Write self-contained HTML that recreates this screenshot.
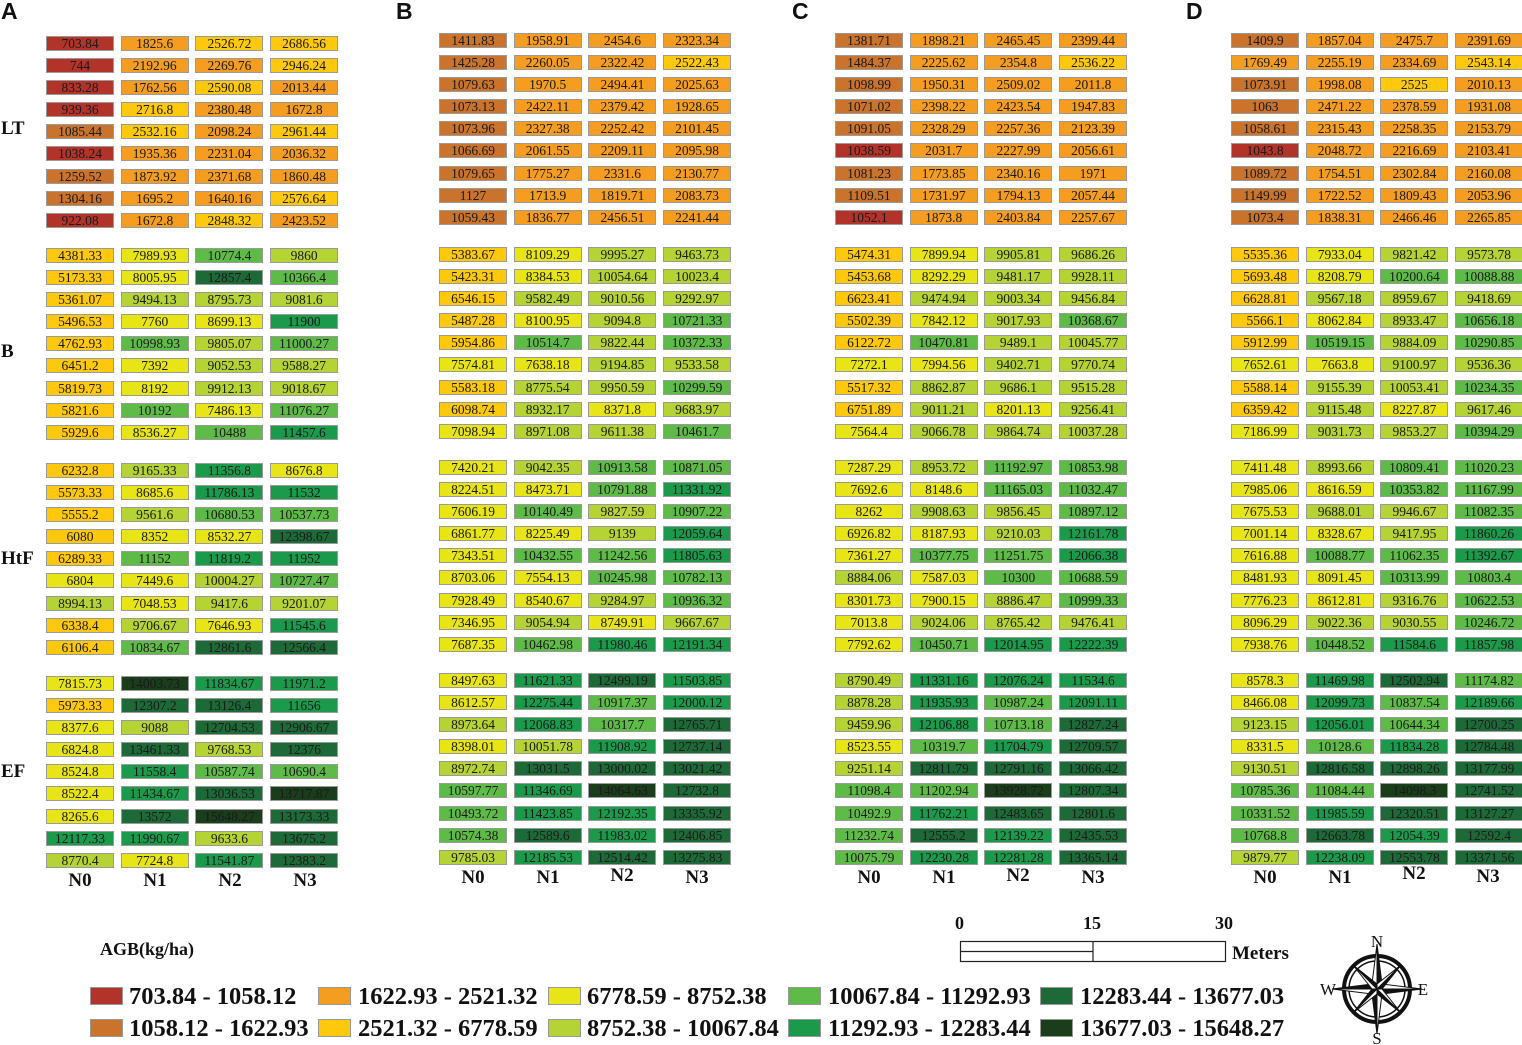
<!DOCTYPE html>
<html><head><meta charset="utf-8">
<style>
body{margin:0;width:1522px;height:1045px;background:#fff;position:relative;overflow:hidden;font-family:"Liberation Serif",serif;}
.g{position:absolute;display:grid;grid-template-columns:repeat(4,68px);column-gap:6.7px;row-gap:7.1px;}
.g span{display:block;height:15px;box-sizing:border-box;border:1px solid #9a9a9a;font:13.5px/13px "Liberation Serif",serif;text-align:center;color:#1a1a1a;white-space:nowrap;overflow:hidden;}
.t{position:absolute;font-weight:bold;color:#111;font-family:"Liberation Serif",serif;}
.lab{font-size:19px;}
.pl{font-size:23px;font-family:"Liberation Sans",sans-serif;}
.nh{font-size:19px;width:68px;text-align:center;}
.sw{position:absolute;width:33px;height:18px;border:1px solid #999;box-sizing:border-box;}
.lt{position:absolute;font:bold 24.5px "Liberation Serif",serif;color:#111;white-space:nowrap;}
</style></head><body>

<div class="t pl" style="left:1px;top:-2px">A</div>
<div class="t pl" style="left:396px;top:-2px">B</div>
<div class="t pl" style="left:792px;top:-2px">C</div>
<div class="t pl" style="left:1186px;top:-2px">D</div>

<div class="t lab" style="left:1px;top:118px">LT</div>
<div class="t lab" style="left:1px;top:341px">B</div>
<div class="t lab" style="left:1px;top:548px">HtF</div>
<div class="t lab" style="left:1px;top:761px">EF</div>

<!-- Panel A -->
<div class="g" style="left:46px;top:36px">
<span>703.84</span><span>1825.6</span><span>2526.72</span><span>2686.56</span>
<span>744</span><span>2192.96</span><span>2269.76</span><span>2946.24</span>
<span>833.28</span><span>1762.56</span><span>2590.08</span><span>2013.44</span>
<span>939.36</span><span>2716.8</span><span>2380.48</span><span>1672.8</span>
<span>1085.44</span><span>2532.16</span><span>2098.24</span><span>2961.44</span>
<span>1038.24</span><span>1935.36</span><span>2231.04</span><span>2036.32</span>
<span>1259.52</span><span>1873.92</span><span>2371.68</span><span>1860.48</span>
<span>1304.16</span><span>1695.2</span><span>1640.16</span><span>2576.64</span>
<span>922.08</span><span>1672.8</span><span>2848.32</span><span>2423.52</span>
</div>
<div class="g" style="left:46px;top:248px">
<span>4381.33</span><span>7989.93</span><span>10774.4</span><span>9860</span>
<span>5173.33</span><span>8005.95</span><span>12857.4</span><span>10366.4</span>
<span>5361.07</span><span>9494.13</span><span>8795.73</span><span>9081.6</span>
<span>5496.53</span><span>7760</span><span>8699.13</span><span>11900</span>
<span>4762.93</span><span>10998.93</span><span>9805.07</span><span>11000.27</span>
<span>6451.2</span><span>7392</span><span>9052.53</span><span>9588.27</span>
<span>5819.73</span><span>8192</span><span>9912.13</span><span>9018.67</span>
<span>5821.6</span><span>10192</span><span>7486.13</span><span>11076.27</span>
<span>5929.6</span><span>8536.27</span><span>10488</span><span>11457.6</span>
</div>
<div class="g" style="left:46px;top:463px">
<span>6232.8</span><span>9165.33</span><span>11356.8</span><span>8676.8</span>
<span>5573.33</span><span>8685.6</span><span>11786.13</span><span>11532</span>
<span>5555.2</span><span>9561.6</span><span>10680.53</span><span>10537.73</span>
<span>6080</span><span>8352</span><span>8532.27</span><span>12398.67</span>
<span>6289.33</span><span>11152</span><span>11819.2</span><span>11952</span>
<span>6804</span><span>7449.6</span><span>10004.27</span><span>10727.47</span>
<span>8994.13</span><span>7048.53</span><span>9417.6</span><span>9201.07</span>
<span>6338.4</span><span>9706.67</span><span>7646.93</span><span>11545.6</span>
<span>6106.4</span><span>10834.67</span><span>12861.6</span><span>12566.4</span>
</div>
<div class="g" style="left:46px;top:676px">
<span>7815.73</span><span>14003.73</span><span>11834.67</span><span>11971.2</span>
<span>5973.33</span><span>12307.2</span><span>13126.4</span><span>11656</span>
<span>8377.6</span><span>9088</span><span>12704.53</span><span>12906.67</span>
<span>6824.8</span><span>13461.33</span><span>9768.53</span><span>12376</span>
<span>8524.8</span><span>11558.4</span><span>10587.74</span><span>10690.4</span>
<span>8522.4</span><span>11434.67</span><span>13036.53</span><span>13717.87</span>
<span>8265.6</span><span>13572</span><span>15648.27</span><span>13173.33</span>
<span>12117.33</span><span>11990.67</span><span>9633.6</span><span>13675.2</span>
<span>8770.4</span><span>7724.8</span><span>11541.87</span><span>12383.2</span>
</div>

<!-- Panel B -->
<div class="g" style="left:439px;top:33px">
<span>1411.83</span><span>1958.91</span><span>2454.6</span><span>2323.34</span>
<span>1425.28</span><span>2260.05</span><span>2322.42</span><span>2522.43</span>
<span>1079.63</span><span>1970.5</span><span>2494.41</span><span>2025.63</span>
<span>1073.13</span><span>2422.11</span><span>2379.42</span><span>1928.65</span>
<span>1073.96</span><span>2327.38</span><span>2252.42</span><span>2101.45</span>
<span>1066.69</span><span>2061.55</span><span>2209.11</span><span>2095.98</span>
<span>1079.65</span><span>1775.27</span><span>2331.6</span><span>2130.77</span>
<span>1127</span><span>1713.9</span><span>1819.71</span><span>2083.73</span>
<span>1059.43</span><span>1836.77</span><span>2456.51</span><span>2241.44</span>
</div>
<div class="g" style="left:439px;top:247px">
<span>5383.67</span><span>8109.29</span><span>9995.27</span><span>9463.73</span>
<span>5423.31</span><span>8384.53</span><span>10054.64</span><span>10023.4</span>
<span>6546.15</span><span>9582.49</span><span>9010.56</span><span>9292.97</span>
<span>5487.28</span><span>8100.95</span><span>9094.8</span><span>10721.33</span>
<span>5954.86</span><span>10514.7</span><span>9822.44</span><span>10372.33</span>
<span>7574.81</span><span>7638.18</span><span>9194.85</span><span>9533.58</span>
<span>5583.18</span><span>8775.54</span><span>9950.59</span><span>10299.59</span>
<span>6098.74</span><span>8932.17</span><span>8371.8</span><span>9683.97</span>
<span>7098.94</span><span>8971.08</span><span>9611.38</span><span>10461.7</span>
</div>
<div class="g" style="left:439px;top:460px">
<span>7420.21</span><span>9042.35</span><span>10913.58</span><span>10871.05</span>
<span>8224.51</span><span>8473.71</span><span>10791.88</span><span>11331.92</span>
<span>7606.19</span><span>10140.49</span><span>9827.59</span><span>10907.22</span>
<span>6861.77</span><span>8225.49</span><span>9139</span><span>12059.64</span>
<span>7343.51</span><span>10432.55</span><span>11242.56</span><span>11805.63</span>
<span>8703.06</span><span>7554.13</span><span>10245.98</span><span>10782.13</span>
<span>7928.49</span><span>8540.67</span><span>9284.97</span><span>10936.32</span>
<span>7346.95</span><span>9054.94</span><span>8749.91</span><span>9667.67</span>
<span>7687.35</span><span>10462.98</span><span>11980.46</span><span>12191.34</span>
</div>
<div class="g" style="left:439px;top:673px">
<span>8497.63</span><span>11621.33</span><span>12499.19</span><span>11503.85</span>
<span>8612.57</span><span>12275.44</span><span>10917.37</span><span>12000.12</span>
<span>8973.64</span><span>12068.83</span><span>10317.7</span><span>12765.71</span>
<span>8398.01</span><span>10051.78</span><span>11908.92</span><span>12737.14</span>
<span>8972.74</span><span>13031.5</span><span>13000.02</span><span>13021.42</span>
<span>10597.77</span><span>11346.69</span><span>14064.63</span><span>12732.8</span>
<span>10493.72</span><span>11423.85</span><span>12192.35</span><span>13335.92</span>
<span>10574.38</span><span>12589.6</span><span>11983.02</span><span>12406.85</span>
<span>9785.03</span><span>12185.53</span><span>12514.42</span><span>13275.83</span>
</div>

<!-- Panel C -->
<div class="g" style="left:835px;top:33px">
<span>1381.71</span><span>1898.21</span><span>2465.45</span><span>2399.44</span>
<span>1484.37</span><span>2225.62</span><span>2354.8</span><span>2536.22</span>
<span>1098.99</span><span>1950.31</span><span>2509.02</span><span>2011.8</span>
<span>1071.02</span><span>2398.22</span><span>2423.54</span><span>1947.83</span>
<span>1091.05</span><span>2328.29</span><span>2257.36</span><span>2123.39</span>
<span>1038.59</span><span>2031.7</span><span>2227.99</span><span>2056.61</span>
<span>1081.23</span><span>1773.85</span><span>2340.16</span><span>1971</span>
<span>1109.51</span><span>1731.97</span><span>1794.13</span><span>2057.44</span>
<span>1052.1</span><span>1873.8</span><span>2403.84</span><span>2257.67</span>
</div>
<div class="g" style="left:835px;top:247px">
<span>5474.31</span><span>7899.94</span><span>9905.81</span><span>9686.26</span>
<span>5453.68</span><span>8292.29</span><span>9481.17</span><span>9928.11</span>
<span>6623.41</span><span>9474.94</span><span>9003.34</span><span>9456.84</span>
<span>5502.39</span><span>7842.12</span><span>9017.93</span><span>10368.67</span>
<span>6122.72</span><span>10470.81</span><span>9489.1</span><span>10045.77</span>
<span>7272.1</span><span>7994.56</span><span>9402.71</span><span>9770.74</span>
<span>5517.32</span><span>8862.87</span><span>9686.1</span><span>9515.28</span>
<span>6751.89</span><span>9011.21</span><span>8201.13</span><span>9256.41</span>
<span>7564.4</span><span>9066.78</span><span>9864.74</span><span>10037.28</span>
</div>
<div class="g" style="left:835px;top:460px">
<span>7287.29</span><span>8953.72</span><span>11192.97</span><span>10853.98</span>
<span>7692.6</span><span>8148.6</span><span>11165.03</span><span>11032.47</span>
<span>8262</span><span>9908.63</span><span>9856.45</span><span>10897.12</span>
<span>6926.82</span><span>8187.93</span><span>9210.03</span><span>12161.78</span>
<span>7361.27</span><span>10377.75</span><span>11251.75</span><span>12066.38</span>
<span>8884.06</span><span>7587.03</span><span>10300</span><span>10688.59</span>
<span>8301.73</span><span>7900.15</span><span>8886.47</span><span>10999.33</span>
<span>7013.8</span><span>9024.06</span><span>8765.42</span><span>9476.41</span>
<span>7792.62</span><span>10450.71</span><span>12014.95</span><span>12222.39</span>
</div>
<div class="g" style="left:835px;top:673px">
<span>8790.49</span><span>11331.16</span><span>12076.24</span><span>11534.6</span>
<span>8878.28</span><span>11935.93</span><span>10987.24</span><span>12091.11</span>
<span>9459.96</span><span>12106.88</span><span>10713.18</span><span>12827.24</span>
<span>8523.55</span><span>10319.7</span><span>11704.79</span><span>12709.57</span>
<span>9251.14</span><span>12811.79</span><span>12791.16</span><span>13066.42</span>
<span>11098.4</span><span>11202.94</span><span>13928.72</span><span>12807.34</span>
<span>10492.9</span><span>11762.21</span><span>12483.65</span><span>12801.6</span>
<span>11232.74</span><span>12555.2</span><span>12139.22</span><span>12435.53</span>
<span>10075.79</span><span>12230.28</span><span>12281.28</span><span>13365.14</span>
</div>

<!-- Panel D -->
<div class="g" style="left:1231px;top:33px">
<span>1409.9</span><span>1857.04</span><span>2475.7</span><span>2391.69</span>
<span>1769.49</span><span>2255.19</span><span>2334.69</span><span>2543.14</span>
<span>1073.91</span><span>1998.08</span><span>2525</span><span>2010.13</span>
<span>1063</span><span>2471.22</span><span>2378.59</span><span>1931.08</span>
<span>1058.61</span><span>2315.43</span><span>2258.35</span><span>2153.79</span>
<span>1043.8</span><span>2048.72</span><span>2216.69</span><span>2103.41</span>
<span>1089.72</span><span>1754.51</span><span>2302.84</span><span>2160.08</span>
<span>1149.99</span><span>1722.52</span><span>1809.43</span><span>2053.96</span>
<span>1073.4</span><span>1838.31</span><span>2466.46</span><span>2265.85</span>
</div>
<div class="g" style="left:1231px;top:247px">
<span>5535.36</span><span>7933.04</span><span>9821.42</span><span>9573.78</span>
<span>5693.48</span><span>8208.79</span><span>10200.64</span><span>10088.88</span>
<span>6628.81</span><span>9567.18</span><span>8959.67</span><span>9418.69</span>
<span>5566.1</span><span>8062.84</span><span>8933.47</span><span>10656.18</span>
<span>5912.99</span><span>10519.15</span><span>9884.09</span><span>10290.85</span>
<span>7652.61</span><span>7663.8</span><span>9100.97</span><span>9536.36</span>
<span>5588.14</span><span>9155.39</span><span>10053.41</span><span>10234.35</span>
<span>6359.42</span><span>9115.48</span><span>8227.87</span><span>9617.46</span>
<span>7186.99</span><span>9031.73</span><span>9853.27</span><span>10394.29</span>
</div>
<div class="g" style="left:1231px;top:460px">
<span>7411.48</span><span>8993.66</span><span>10809.41</span><span>11020.23</span>
<span>7985.06</span><span>8616.59</span><span>10353.82</span><span>11167.99</span>
<span>7675.53</span><span>9688.01</span><span>9946.67</span><span>11082.35</span>
<span>7001.14</span><span>8328.67</span><span>9417.95</span><span>11860.26</span>
<span>7616.88</span><span>10088.77</span><span>11062.35</span><span>11392.67</span>
<span>8481.93</span><span>8091.45</span><span>10313.99</span><span>10803.4</span>
<span>7776.23</span><span>8612.81</span><span>9316.76</span><span>10622.53</span>
<span>8096.29</span><span>9022.36</span><span>9030.55</span><span>10246.72</span>
<span>7938.76</span><span>10448.52</span><span>11584.6</span><span>11857.98</span>
</div>
<div class="g" style="left:1231px;top:673px">
<span>8578.3</span><span>11469.98</span><span>12502.94</span><span>11174.82</span>
<span>8466.08</span><span>12099.73</span><span>10837.54</span><span>12189.66</span>
<span>9123.15</span><span>12056.01</span><span>10644.34</span><span>12700.25</span>
<span>8331.5</span><span>10128.6</span><span>11834.28</span><span>12784.48</span>
<span>9130.51</span><span>12816.58</span><span>12898.26</span><span>13177.99</span>
<span>10785.36</span><span>11084.44</span><span>14098.3</span><span>12741.52</span>
<span>10331.52</span><span>11985.59</span><span>12320.51</span><span>13127.27</span>
<span>10768.8</span><span>12663.78</span><span>12054.39</span><span>12592.4</span>
<span>9879.77</span><span>12238.09</span><span>12553.78</span><span>13371.56</span>
</div>

<!-- column headers -->
<div class="t nh" style="left:46px;top:870px">N0</div>
<div class="t nh" style="left:121px;top:870px">N1</div>
<div class="t nh" style="left:196px;top:870px">N2</div>
<div class="t nh" style="left:271px;top:870px">N3</div>
<div class="t nh" style="left:439px;top:867px">N0</div>
<div class="t nh" style="left:514px;top:867px">N1</div>
<div class="t nh" style="left:588px;top:865px">N2</div>
<div class="t nh" style="left:663px;top:867px">N3</div>
<div class="t nh" style="left:835px;top:867px">N0</div>
<div class="t nh" style="left:910px;top:867px">N1</div>
<div class="t nh" style="left:984px;top:865px">N2</div>
<div class="t nh" style="left:1059px;top:867px">N3</div>
<div class="t nh" style="left:1231px;top:867px">N0</div>
<div class="t nh" style="left:1306px;top:867px">N1</div>
<div class="t nh" style="left:1380px;top:863px">N2</div>
<div class="t nh" style="left:1454px;top:866px">N3</div>

<!-- legend -->
<div class="t" style="left:100px;top:939px;font-size:18px">AGB(kg/ha)</div>
<div class="sw" style="left:90px;top:987px;background:#b2332a"></div><div class="lt" style="left:129px;top:983px">703.84 - 1058.12</div>
<div class="sw" style="left:90px;top:1019px;background:#c9732d"></div><div class="lt" style="left:129px;top:1015px">1058.12 - 1622.93</div>
<div class="sw" style="left:318px;top:987px;background:#f49d20"></div><div class="lt" style="left:358px;top:983px">1622.93 - 2521.32</div>
<div class="sw" style="left:318px;top:1019px;background:#fec80c"></div><div class="lt" style="left:358px;top:1015px">2521.32 - 6778.59</div>
<div class="sw" style="left:548px;top:987px;background:#e8e517"></div><div class="lt" style="left:587px;top:983px">6778.59 - 8752.38</div>
<div class="sw" style="left:548px;top:1019px;background:#b5d334"></div><div class="lt" style="left:587px;top:1015px">8752.38 - 10067.84</div>
<div class="sw" style="left:788px;top:987px;background:#5fbb48"></div><div class="lt" style="left:828px;top:983px">10067.84 - 11292.93</div>
<div class="sw" style="left:788px;top:1019px;background:#1c9a4b"></div><div class="lt" style="left:828px;top:1015px">11292.93 - 12283.44</div>
<div class="sw" style="left:1040px;top:987px;background:#1d6a38"></div><div class="lt" style="left:1080px;top:983px">12283.44 - 13677.03</div>
<div class="sw" style="left:1040px;top:1019px;background:#1a3d1c"></div><div class="lt" style="left:1080px;top:1015px">13677.03 - 15648.27</div>

<!-- scale bar -->
<div class="t" style="left:955px;top:913px;font-size:18px">0</div>
<div class="t" style="left:1083px;top:913px;font-size:18px">15</div>
<div class="t" style="left:1215px;top:913px;font-size:18px">30</div>
<svg style="position:absolute;left:0;top:0" width="1522" height="1045">
<rect x="960.5" y="941.5" width="265" height="20" fill="#fff" stroke="#222" stroke-width="1.2"/>
<line x1="1093" y1="941.5" x2="1093" y2="961.5" stroke="#222" stroke-width="1.2"/>
<line x1="960.5" y1="951.5" x2="1093" y2="951.5" stroke="#222" stroke-width="1.2"/>
<g transform="translate(1377,989)">
<circle r="33" fill="none" stroke="#111" stroke-width="4"/>
<circle r="28" fill="none" stroke="#111" stroke-width="1.5"/>
<g stroke="#111" stroke-width="1" fill="#111">
<polygon points="0,-45 5,-5 0,0"/><polygon points="0,-45 -5,-5 0,0" fill="#fff"/>
<polygon points="45,0 5,5 0,0"/><polygon points="45,0 5,-5 0,0" fill="#fff"/>
<polygon points="0,45 -5,5 0,0"/><polygon points="0,45 5,5 0,0" fill="#fff"/>
<polygon points="-45,0 -5,-5 0,0"/><polygon points="-45,0 -5,5 0,0" fill="#fff"/>
<polygon points="24,-24 5,0 0,0"/><polygon points="24,-24 0,-5 0,0" fill="#fff"/>
<polygon points="24,24 0,5 0,0"/><polygon points="24,24 5,0 0,0" fill="#fff"/>
<polygon points="-24,24 -5,0 0,0"/><polygon points="-24,24 0,5 0,0" fill="#fff"/>
<polygon points="-24,-24 0,-5 0,0"/><polygon points="-24,-24 -5,0 0,0" fill="#fff"/>
</g>
</g>
<text x="1377" y="947" font-family="Liberation Serif" font-size="17" text-anchor="middle" fill="#111">N</text>
<text x="1377" y="1044" font-family="Liberation Serif" font-size="17" text-anchor="middle" fill="#111">S</text>
<text x="1328" y="995" font-family="Liberation Serif" font-size="17" text-anchor="middle" fill="#111">W</text>
<text x="1423" y="995" font-family="Liberation Serif" font-size="17" text-anchor="middle" fill="#111">E</text>
</svg>
<div class="t" style="left:1232px;top:943px;font-size:19px">Meters</div>

<script>
(function(){
var t=[1058.12,1622.93,2521.32,6778.59,8752.38,10067.84,11292.93,12283.44,13677.03];
var c=["#b2332a","#c9732d","#f49d20","#fec80c","#e8e517","#b5d334","#5fbb48","#1c9a4b","#1d6a38","#1a3d1c"];
var s=document.querySelectorAll('.g span');
for(var i=0;i<s.length;i++){var v=parseFloat(s[i].textContent),k=0;while(k<t.length&&v>t[k])k++;s[i].style.background=c[k];}
})();
</script>
</body></html>
